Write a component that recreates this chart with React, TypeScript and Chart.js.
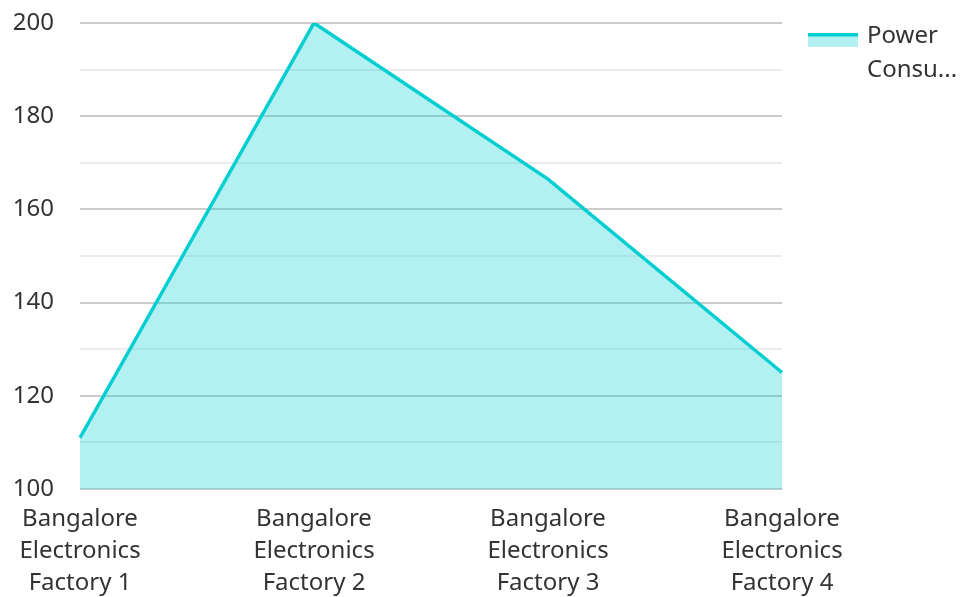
import React, { useEffect, useRef } from "react";
import { Chart, registerables } from "chart.js";

Chart.register(...registerables);

const categories: string[][] = [
  ["Bangalore", "Electronics", "Factory 1"],
  ["Bangalore", "Electronics", "Factory 2"],
  ["Bangalore", "Electronics", "Factory 3"],
  ["Bangalore", "Electronics", "Factory 4"],
];
const seriesName = "Power Consumption";
const legendLines = ["Power", "Consu..."];
const powerValues = [111, 200, 166.5, 125];
const yMin = 100;
const yMax = 200;

const LINE = "#00CED1";
const FILL = "rgba(0,206,209,0.3)";
const TEXT = "#333333";
const FONT = "'Noto Sans', sans-serif";

const legendPlugin = {
  id: "customLegend",
  afterDraw(chart: any) {
    const { ctx, chartArea } = chart;
    const x = chartArea.right + 26;
    const y = 33;
    ctx.save();
    ctx.fillStyle = FILL;
    ctx.fillRect(x, y, 50, 14);
    ctx.fillStyle = LINE;
    ctx.fillRect(x, y, 50, 3.5);
    ctx.fillStyle = TEXT;
    ctx.font = `24px ${FONT}`;
    ctx.textBaseline = "middle";
    ctx.textAlign = "left";
    legendLines.forEach((t, i) => ctx.fillText(t, x + 59, y + 3 + i * 34));
    ctx.restore();
  },
};

export default function App() {
  const ref = useRef<HTMLCanvasElement | null>(null);
  useEffect(() => {
    document.body.style.margin = "0";
    const chart = new Chart(ref.current!, {
      type: "line",
      data: {
        labels: categories,
        datasets: [
          {
            label: seriesName,
            data: powerValues,
            borderColor: LINE,
            backgroundColor: FILL,
            borderWidth: 3.5,
            pointRadius: 0,
            tension: 0,
            fill: "start",
          },
        ],
      },
      options: {
        animation: false,
        responsive: false,
        maintainAspectRatio: false,
        layout: { padding: { left: 13, right: 179, top: 0, bottom: -16 } },
        plugins: { legend: { display: false }, tooltip: { enabled: false } },
        scales: {
          x: {
            offset: false,
            border: { display: false },
            grid: { display: false, drawTicks: false },
            ticks: {
              color: TEXT,
              font: { family: FONT, size: 24, lineHeight: "32px" as any },
              padding: 14,
              maxRotation: 0,
              autoSkip: false,
            },
          },
          y: {
            min: yMin,
            max: yMax,
            border: { display: false },
            afterFit: (scale: any) => {
              scale.width = 67;
              scale.paddingTop = 23;
            },
            grid: {
              drawTicks: false,
              lineWidth: 2,
              color: (c: any) =>
                c.tick && c.tick.value % 20 === 0 ? "rgba(0,0,0,0.2)" : "rgba(0,0,0,0.08)",
            },
            ticks: {
              stepSize: 10,
              color: TEXT,
              padding: 26,
              font: { family: FONT, size: 24 },
              callback: (v: any) => (Number(v) % 20 === 0 ? String(v) : ""),
            },
          },
        },
      },
      plugins: [legendPlugin],
    });
    return () => chart.destroy();
  }, []);
  return (
    <div style={{ width: 961, height: 597 }}>
      <canvas ref={ref} width={961} height={597} style={{ display: "block" }} />
    </div>
  );
}
